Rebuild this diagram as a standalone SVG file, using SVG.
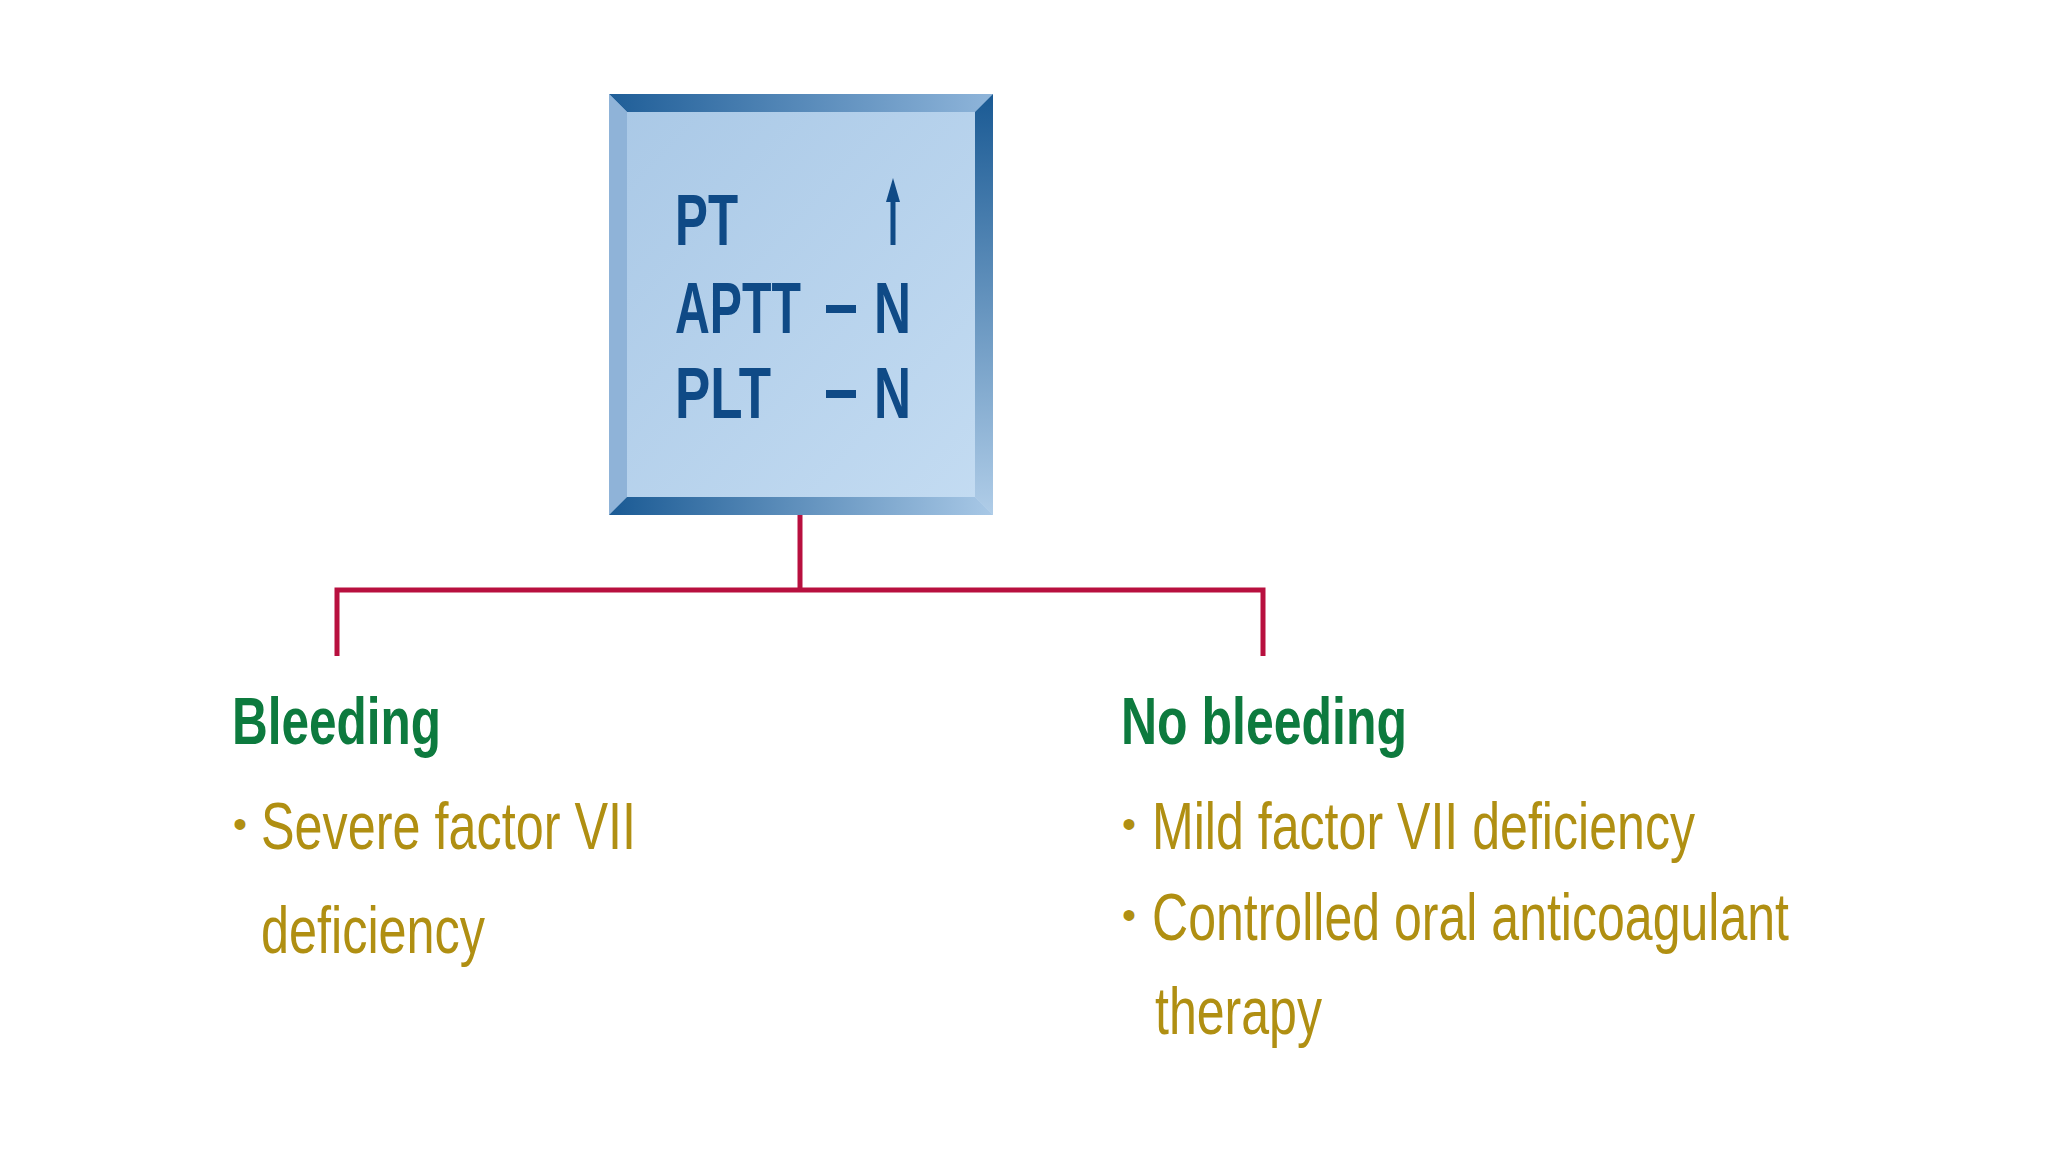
<svg xmlns="http://www.w3.org/2000/svg" width="2048" height="1152" viewBox="0 0 2048 1152">
<defs>
<linearGradient id="face" x1="0" y1="0" x2="1" y2="1"><stop offset="0" stop-color="#a9c8e6"/><stop offset="1" stop-color="#c4dcf2"/></linearGradient>
<linearGradient id="top" x1="0" y1="0" x2="1" y2="0"><stop offset="0" stop-color="#1f5e98"/><stop offset="1" stop-color="#8fb5da"/></linearGradient>
<linearGradient id="bot" x1="0" y1="0" x2="1" y2="0"><stop offset="0" stop-color="#1a5a94"/><stop offset="1" stop-color="#a8c8e6"/></linearGradient>
<linearGradient id="side" x1="0" y1="0" x2="0" y2="1"><stop offset="0" stop-color="#1a5a94"/><stop offset="1" stop-color="#b0cde8"/></linearGradient>
<style>
.bx{font-family:"Liberation Sans",Arial,sans-serif;font-weight:bold;font-size:72px;fill:#0f4a86}
.hd{font-family:"Liberation Sans",Arial,sans-serif;font-weight:bold;font-size:66px;fill:#0d7a3e}
.it{font-family:"Liberation Sans",Arial,sans-serif;font-size:66px;fill:#b08f12}
.bu{font-family:"Liberation Sans",Arial,sans-serif;font-size:40px;fill:#b08f12}
.cn{fill:none;stroke:#b8103f;stroke-width:5}
</style>
</defs>
<g id="box">
<rect x="609" y="94" width="384" height="421" fill="url(#face)"/>
<polygon points="609,94 993,94 975,112 627,112" fill="url(#top)"/>
<polygon points="609,94 627,112 627,497 609,515" fill="#8fb3d8"/>
<polygon points="993,94 993,515 975,497 975,112" fill="url(#side)"/>
<polygon points="609,515 993,515 975,497 627,497" fill="url(#bot)"/>
<text class="bx" x="675" y="245" textLength="63" lengthAdjust="spacingAndGlyphs">PT</text>
<text class="bx" x="675" y="333" textLength="126" lengthAdjust="spacingAndGlyphs">APTT</text>
<text class="bx" x="675" y="418" textLength="96" lengthAdjust="spacingAndGlyphs">PLT</text>
<rect x="826" y="305" width="30" height="8" fill="#0f4a86"/>
<rect x="826" y="390" width="30" height="8" fill="#0f4a86"/>
<text class="bx" x="874" y="333" textLength="37" lengthAdjust="spacingAndGlyphs">N</text>
<text class="bx" x="874" y="418" textLength="37" lengthAdjust="spacingAndGlyphs">N</text>
<line x1="893" y1="245" x2="893" y2="195" stroke="#0f4a86" stroke-width="5"/>
<polygon points="893,178 886,202 900,202" fill="#0f4a86"/>
</g>
<g id="connectors">
<polyline class="cn" points="800,515 800,590"/>
<polyline class="cn" points="337,656 337,590 1263,590 1263,656"/>
</g>
<g id="bleeding">
<text class="hd" x="232" y="744" textLength="209" lengthAdjust="spacingAndGlyphs">Bleeding</text>
<text class="bu" x="233" y="838">•</text>
<text class="it" x="261" y="849" textLength="375" lengthAdjust="spacingAndGlyphs">Severe factor VII</text>
<text class="it" x="261" y="953" textLength="224" lengthAdjust="spacingAndGlyphs">deficiency</text>
</g>
<g id="nobleeding">
<text class="hd" x="1121" y="744" textLength="286" lengthAdjust="spacingAndGlyphs">No bleeding</text>
<text class="bu" x="1122" y="838">•</text>
<text class="it" x="1152" y="849" textLength="543" lengthAdjust="spacingAndGlyphs">Mild factor VII deficiency</text>
<text class="bu" x="1122" y="929">•</text>
<text class="it" x="1152" y="940" textLength="637" lengthAdjust="spacingAndGlyphs">Controlled oral anticoagulant</text>
<text class="it" x="1155" y="1034" textLength="167" lengthAdjust="spacingAndGlyphs">therapy</text>
</g>
</svg>
